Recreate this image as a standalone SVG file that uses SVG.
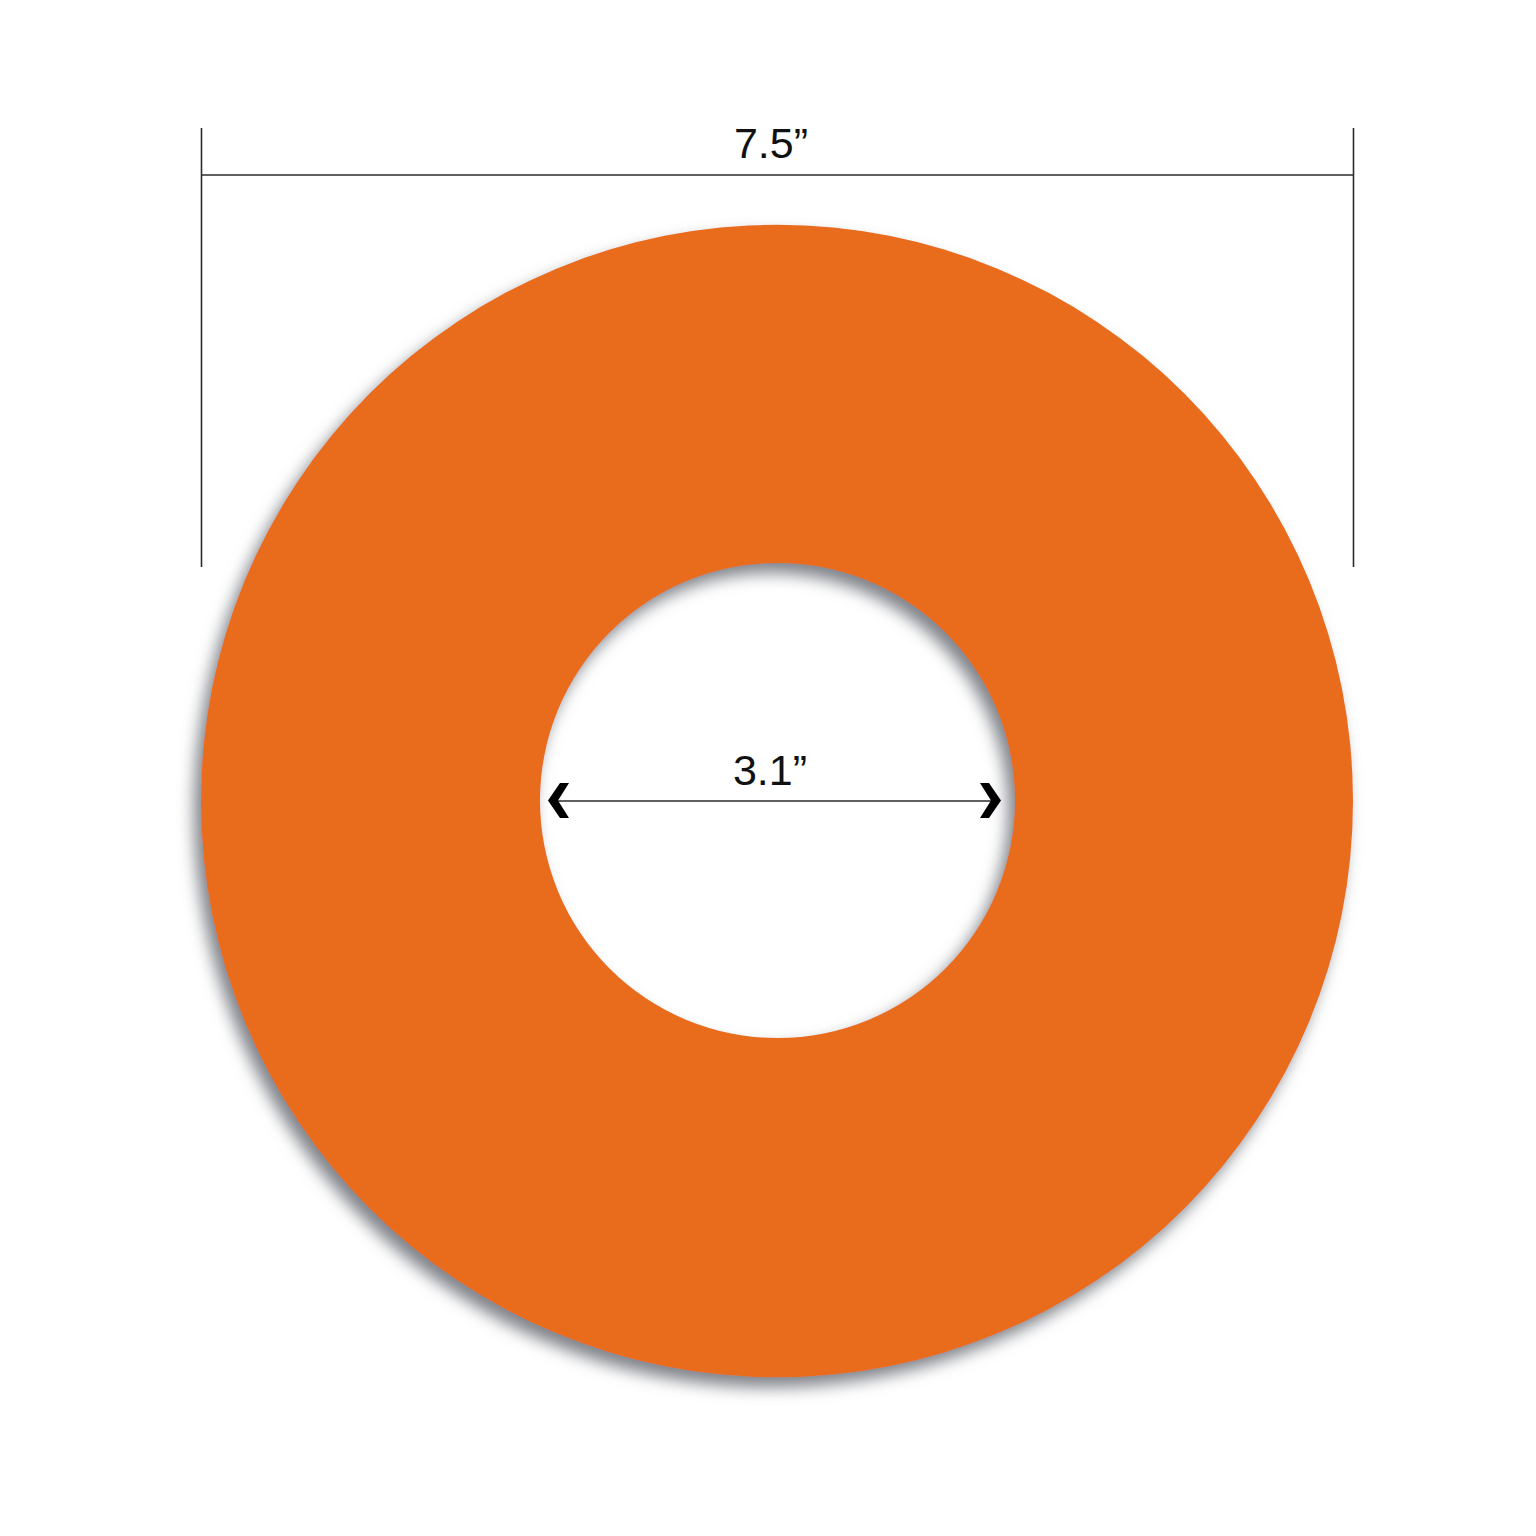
<svg xmlns="http://www.w3.org/2000/svg" width="1536" height="1536" viewBox="0 0 1536 1536">
<style>
.dim{stroke:#2b2b2b;stroke-width:1.6;fill:none}
.lbl{font-family:"Liberation Sans",Arial,sans-serif;font-size:43px;fill:#111;text-anchor:middle}
.chev{fill:#000}
</style>
<defs>
<filter id="sh" x="-10%" y="-10%" width="120%" height="120%">
<feDropShadow dx="-7" dy="10" stdDeviation="8" flood-color="#7f8288" flood-opacity="1"/>
</filter>
</defs>
<rect width="1536" height="1536" fill="#fff"/>
<g id="ring">
<path filter="url(#sh)" fill="#E96C1F" fill-rule="evenodd" d="M201,801 A576,576 0 1,0 1353,801 A576,576 0 1,0 201,801 Z M540,800.5 A237.5,237.5 0 1,0 1015,800.5 A237.5,237.5 0 1,0 540,800.5 Z"/>
</g>
<g id="outer-dimension">
<line class="dim" x1="201.5" y1="128" x2="201.5" y2="567"/>
<line class="dim" x1="1353.5" y1="128" x2="1353.5" y2="567"/>
<line class="dim" x1="201.5" y1="175" x2="1353.5" y2="175"/>
<text class="lbl" x="771" y="158">7.5”</text>
</g>
<g id="inner-dimension">
<line class="dim" x1="556" y1="801" x2="994" y2="801"/>
<path class="chev" d="M548,800.5 L560,783 L569,783 L558,800.5 L569,818 L560,818 Z"/>
<path class="chev" d="M1001,800.5 L989,783 L980,783 L991,800.5 L980,818 L989,818 Z"/>
<text class="lbl" x="770" y="785">3.1”</text>
</g>
</svg>
